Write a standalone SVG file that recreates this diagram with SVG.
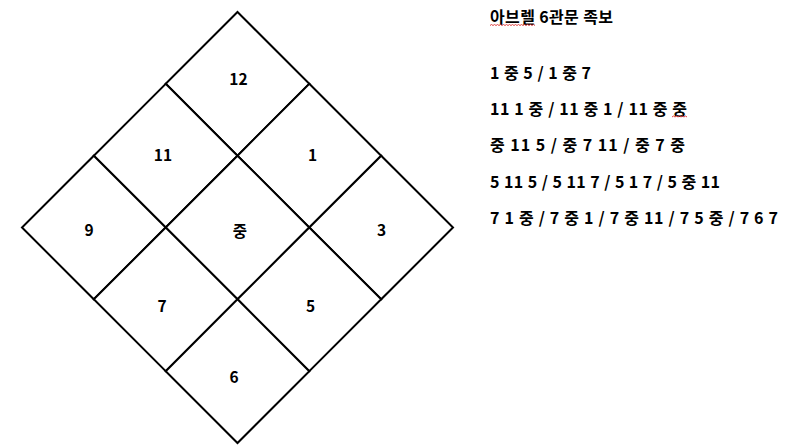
<svg xmlns="http://www.w3.org/2000/svg" width="800" height="446" viewBox="0 0 800 446">
  <style>
    .cell { fill: #ffffff; stroke: #000000; stroke-width: 2; stroke-linejoin: miter; }
    .lbl { font-family: "Noto Sans CJK KR", "Noto Sans", sans-serif; font-size: 15.5px; font-weight: bold; fill: #000000; text-anchor: middle; }
    .txt { font-family: "Noto Sans CJK KR", "Noto Sans", sans-serif; font-size: 16px; font-weight: bold; fill: #000000; }
    .squig { fill: none; stroke: #e04040; stroke-width: 1; }
  </style>
  <rect width="800" height="446" fill="#ffffff"/>
  <g id="board">
    <g id="cell-12">
      <polygon class="cell" points="237.5,12 309.3,83.8 237.5,155.7 165.7,83.8"/>
      <text class="lbl" x="238.5" y="85">12</text>
    </g>
    <g id="cell-11">
      <polygon class="cell" points="165.7,83.8 237.5,155.7 165.7,227.5 93.8,155.7"/>
      <text class="lbl" x="163" y="161">11</text>
    </g>
    <g id="cell-1">
      <polygon class="cell" points="309.3,83.8 381.2,155.7 309.3,227.5 237.5,155.7"/>
      <text class="lbl" x="312.5" y="161">1</text>
    </g>
    <g id="cell-9">
      <polygon class="cell" points="93.8,155.7 165.7,227.5 93.8,299.3 22,227.5"/>
      <text class="lbl" x="89" y="236">9</text>
    </g>
    <g id="cell-center">
      <polygon class="cell" points="237.5,155.7 309.3,227.5 237.5,299.3 165.7,227.5"/>
      <text class="lbl" x="240" y="236.5">중</text>
    </g>
    <g id="cell-3">
      <polygon class="cell" points="381.2,155.7 453,227.5 381.2,299.3 309.3,227.5"/>
      <text class="lbl" x="381.5" y="236">3</text>
    </g>
    <g id="cell-7">
      <polygon class="cell" points="165.7,227.5 237.5,299.3 165.7,371.2 93.8,299.3"/>
      <text class="lbl" x="162" y="311.5">7</text>
    </g>
    <g id="cell-5">
      <polygon class="cell" points="309.3,227.5 381.2,299.3 309.3,371.2 237.5,299.3"/>
      <text class="lbl" x="310.5" y="311.5">5</text>
    </g>
    <g id="cell-6">
      <polygon class="cell" points="237.5,299.3 309.3,371.2 237.5,443 165.7,371.2"/>
      <text class="lbl" x="234" y="382.5">6</text>
    </g>
  </g>
  <g id="connectors"></g>
  <g id="notes">
    <text class="txt" x="490" y="23" textLength="123" lengthAdjust="spacing">아브렐 6관문 족보</text>
    <path class="squig" d="M490,25.5 l1.5,-1 l1.5,1 l1.5,-1 l1.5,1 l1.5,-1 l1.5,1 l1.5,-1 l1.5,1 l1.5,-1 l1.5,1 l1.5,-1 l1.5,1 l1.5,-1 l1.5,1 l1.5,-1 l1.5,1 l1.5,-1 l1.5,1 l1.5,-1 l1.5,1 l1.5,-1 l1.5,1 l1.5,-1 l1.5,1 l1.5,-1 l1.5,1 l1.5,-1 l1.5,1 l1.5,-1 l1.5,1"/>
    <text class="txt" x="490" y="79" textLength="101" lengthAdjust="spacing">1 중 5 / 1 중 7</text>
    <text class="txt" x="490" y="115" textLength="197" lengthAdjust="spacing">11 1 중 / 11 중 1 / 11 중 중</text>
    <path class="squig" d="M672,117 l1.5,-1 l1.5,1 l1.5,-1 l1.5,1 l1.5,-1 l1.5,1 l1.5,-1 l1.5,1 l1.5,-1 l1.5,1"/>
    <text class="txt" x="490" y="151" textLength="195" lengthAdjust="spacing">중 11 5 / 중 7 11 / 중 7 중</text>
    <text class="txt" x="490" y="187.5" textLength="230" lengthAdjust="spacing">5 11 5 / 5 11 7 / 5 1 7 / 5 중 11</text>
    <text class="txt" x="490" y="224" textLength="288" lengthAdjust="spacing">7 1 중 / 7 중 1 / 7 중 11 / 7 5 중 / 7 6 7</text>
  </g>
</svg>
